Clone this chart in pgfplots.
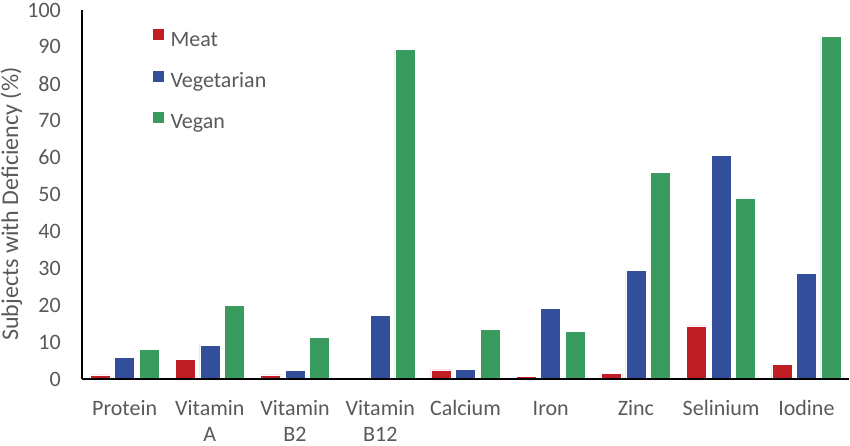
\documentclass[border=0pt]{standalone}
\usepackage{fontspec}
\setmainfont{Carlito}
\usepackage{pgfplots}
\pgfplotsset{compat=1.18}

\definecolor{meatred}{RGB}{192,30,37}
\definecolor{vegblue}{RGB}{51,79,155}
\definecolor{vegangreen}{RGB}{58,155,95}
\definecolor{txtgray}{RGB}{89,89,89}

\newcommand{\chartfont}{\fontsize{22}{26}\selectfont}

\begin{document}
\begin{tikzpicture}
\begin{axis}[
  scale only axis,
  width=767pt, height=369pt,
  xmin=-0.5, xmax=8.5,
  ymin=0, ymax=100,
  enlarge x limits=false, enlarge y limits=false,
  axis x line*=bottom, axis y line*=left,
  axis line style={black, line width=1.2pt, -},
  axis on top,
  xtick={0,...,8},
  xticklabels={{\strut Protein},{\strut Vitamin\\A},{\strut Vitamin\\B2},{\strut Vitamin\\B12},{\strut Calcium},{\strut Iron},{\strut Zinc},{\strut Selinium},{\strut Iodine}},
  ytick={0,10,...,100},
  major tick length=0pt,
  tick style={draw=none},
  /pgf/number format/assume math mode=true,
  xticklabel style={font=\chartfont, text=txtgray, align=center, anchor=north, inner sep=0pt, yshift=-18.5pt},
  yticklabel style={font=\chartfont, text=txtgray, anchor=east, inner sep=0pt, xshift=-21pt},
  ylabel={Subjects with Deficiency (\%)},
  every axis y label/.style={at={(axis description cs:-0.0834,0.474)}, rotate=90, anchor=base,
    font=\fontsize{24}{28}\selectfont, text=txtgray, inner sep=0pt},
  bar width=0.235,
  legend cell align=left,
  legend style={draw=none, fill=none, at={(rel axis cs:0,1)}, anchor=north west,
    xshift=69.7pt, yshift=-18.3pt, inner sep=0pt, outer sep=0pt,
    row sep=18.7pt, column sep=6.3pt,
    font=\chartfont, text=txtgray,
    nodes={inner sep=0pt, text height=16pt, text depth=5pt}},
  legend image code/.code={\fill[#1] (0pt,0pt) rectangle (12pt,12pt);},
]
% Share of subjects with each deficiency, by diet group
\addplot[ybar, bar shift=-0.288, fill=meatred, draw=white, line width=0.5pt]
  coordinates {(0,1.1) (1,5.4) (2,1.1) (3,0) (4,2.5) (5,0.7) (6,1.5) (7,14.4) (8,3.9)};
\addlegendentry{Meat}
\addplot[ybar, bar shift=0, fill=vegblue, draw=white, line width=0.5pt]
  coordinates {(0,5.9) (1,9.2) (2,2.4) (3,17.3) (4,2.6) (5,19.2) (6,29.4) (7,60.6) (8,28.7)};
\addlegendentry{Vegetarian}
\addplot[ybar, bar shift=0.288, fill=vegangreen, draw=white, line width=0.5pt]
  coordinates {(0,8.0) (1,19.9) (2,11.3) (3,89.3) (4,13.5) (5,12.9) (6,55.9) (7,49.0) (8,92.9)};
\addlegendentry{Vegan}
\end{axis}
\pgfresetboundingbox
\path (-82pt,-67pt) rectangle (768pt,379pt);
\end{tikzpicture}
\end{document}
